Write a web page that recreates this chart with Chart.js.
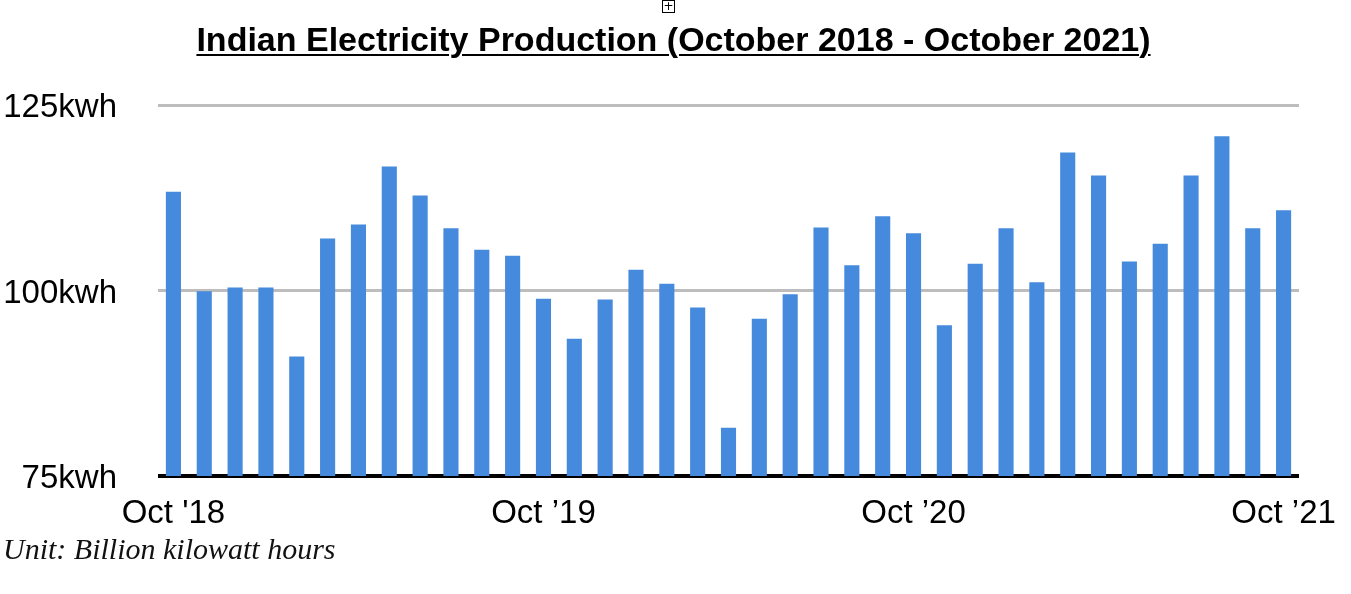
<!DOCTYPE html>
<html>
<head>
<meta charset="utf-8">
<script src="https://cdn.jsdelivr.net/npm/chart.js@4.4.1/dist/chart.umd.min.js"></script>
<style>
  html, body { margin: 0; padding: 0; background: #fff; }
  #wrap { position: relative; width: 1351px; height: 594px; overflow: hidden; }
  #title { position: absolute; left: 0; top: 19px; width: 1347px; text-align: center;
           font: bold 34px "Liberation Sans", Arial, sans-serif; line-height: 40px;
           text-decoration: underline; text-decoration-thickness: 2px; text-underline-offset: 3px; color: #000; }
  #unit { position: absolute; left: 3px; top: 533px; font: italic 30px "Liberation Serif", "Times New Roman", serif;
          line-height: 32px; color: #111; }
  #icon { position: absolute; left: 662px; top: 0px; width: 11px; height: 11px; border: 1px solid #000;
          font: 12px "DejaVu Sans", sans-serif; line-height: 11px; text-align: center; }
</style>
</head>
<body>
<div id="wrap">
  <canvas id="c"></canvas>
  <div id="icon">+</div>
  <div id="title">Indian Electricity Production (October 2018 - October 2021)</div>
  <div id="unit">Unit: Billion kilowatt hours</div>
</div>
<script>
const months = [
  "Oct 2018","Nov 2018","Dec 2018","Jan 2019","Feb 2019","Mar 2019","Apr 2019","May 2019","Jun 2019","Jul 2019","Aug 2019","Sep 2019",
  "Oct 2019","Nov 2019","Dec 2019","Jan 2020","Feb 2020","Mar 2020","Apr 2020","May 2020","Jun 2020","Jul 2020","Aug 2020","Sep 2020",
  "Oct 2020","Nov 2020","Dec 2020","Jan 2021","Feb 2021","Mar 2021","Apr 2021","May 2021","Jun 2021","Jul 2021","Aug 2021","Sep 2021",
  "Oct 2021"
];
const production = [
  113.3, 99.9, 100.4, 100.4, 91.1, 107.0, 108.9, 116.7, 112.8, 108.4, 105.5, 104.7,
  98.9, 93.5, 98.8, 102.8, 100.9, 97.7, 81.5, 96.2, 99.5, 108.5, 103.4, 110.0,
  107.7, 95.3, 103.6, 108.4, 101.1, 118.6, 115.5, 103.9, 106.3, 115.5, 120.8, 108.4,
  110.8
];
const xTickIndices = [0, 12, 24, 36];
const xTickLabels = ["Oct '18", "Oct \u201919", "Oct \u201920", "Oct \u201921"];
const yMin = 75, yMax = 125, yStep = 25;
const yUnit = "kwh";

new Chart(document.getElementById('c'), {
  type: 'bar',
  data: {
    labels: months,
    datasets: [{
      data: production,
      backgroundColor: '#458ADC',
      borderWidth: 0,
      barPercentage: 0.49,
      categoryPercentage: 1.0
    }]
  },
  options: {
    responsive: true,
    maintainAspectRatio: false,
    animation: false,
    layout: { padding: { top: 105, right: 52, left: 0, bottom: 0 } },
    plugins: { legend: { display: false }, tooltip: { enabled: false }, title: { display: false } },
    scales: {
      x: {
        grid: { display: false, drawTicks: false },
        border: { display: false },
        ticks: {
          autoSkip: false, maxRotation: 0, minRotation: 0, padding: 18,
          color: '#000',
          font: { family: '"Liberation Sans", Arial, sans-serif', size: 33 },
          callback: function(v, i) { const k = xTickIndices.indexOf(i); return k >= 0 ? xTickLabels[k] : ''; }
        },
        afterFit: function(s) { s.height = 118; s.paddingLeft = 0; s.paddingRight = 0; }
      },
      y: {
        min: yMin, max: yMax,
        border: { display: false },
        grid: {
          drawTicks: false,
          lineWidth: function(ctx) { return ctx.tick && ctx.tick.value === yMin ? 4 : 3; },
          color: function(ctx) { return ctx.tick && ctx.tick.value === yMin ? '#000' : '#bdbdbd'; }
        },
        ticks: {
          stepSize: yStep, padding: 41, color: '#000', labelOffset: 3,
          font: { family: '"Liberation Sans", Arial, sans-serif', size: 33 },
          callback: function(v) { return v + yUnit; }
        },
        afterFit: function(s) { s.width = 158; }
      }
    }
  }
});
</script>
</body>
</html>
